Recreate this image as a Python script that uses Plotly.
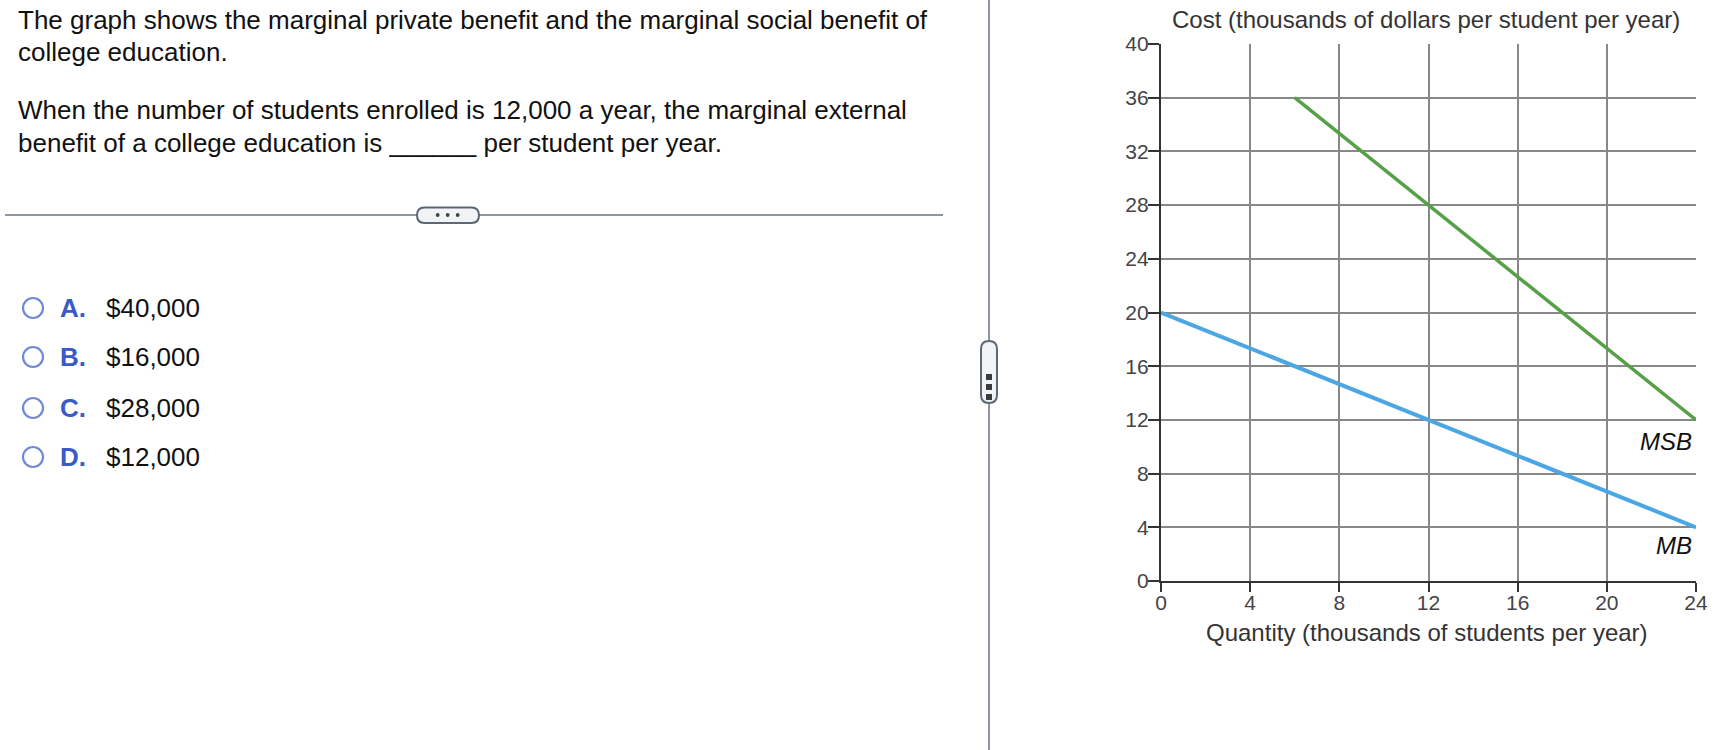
import plotly.graph_objects as go

W, H = 1724, 750

# ---- data ----
mb_x = [0, 24]
mb_y = [20, 4]
msb_x = [6, 24]
msb_y = [36, 12]
x_ticks = [0, 4, 8, 12, 16, 20, 24]
y_ticks = [0, 4, 8, 12, 16, 20, 24, 28, 32, 36, 40]
option_letters = ["A.", "B.", "C.", "D."]
option_values = ["$40,000", "$16,000", "$28,000", "$12,000"]
question_lines = [
    "The graph shows the marginal private benefit and the marginal social benefit of",
    "college education.",
    "When the number of students enrolled is 12,000 a year, the marginal external",
    "benefit of a college education is ______ per student per year.",
]

# plot area in page pixels
PL, PR, PT, PB = 1161, 1696, 44, 581


def fx(px):
    return px / W


def fy(py):
    return 1 - py / H


FONT = "Arial, Liberation Sans, sans-serif"
BLUE = "#4ba6e4"
GREEN = "#55a048"

fig = go.Figure()
fig.add_trace(go.Scatter(x=mb_x, y=mb_y, mode="lines",
                         line=dict(color=BLUE, width=4), hoverinfo="skip"))
fig.add_trace(go.Scatter(x=msb_x, y=msb_y, mode="lines",
                         line=dict(color=GREEN, width=3.5), hoverinfo="skip"))

axis_common = dict(
    showgrid=True, gridcolor="#888888", gridwidth=1.6,
    showline=True, linecolor="#333333", linewidth=2.2,
    ticks="outside", tickcolor="#333333", tickwidth=2,
    zeroline=False, automargin=False,
    tickfont=dict(family=FONT, size=21, color="#444444"),
    fixedrange=True,
)

fig.update_layout(
    width=W, height=H,
    margin=dict(l=0, r=0, t=0, b=0),
    paper_bgcolor="white", plot_bgcolor="white",
    showlegend=False,
    xaxis=dict(domain=[fx(PL), fx(PR)], range=[0, 24], tickvals=x_ticks,
               ticktext=[str(v) for v in x_ticks], ticklen=9,
               ticklabelstandoff=-7, **axis_common),
    yaxis=dict(domain=[fy(PB), fy(PT)], range=[0, 40], tickvals=y_ticks,
               ticktext=[str(v) for v in y_ticks], ticklen=11,
               ticklabelstandoff=-5, **axis_common),
)

anns = []
# chart labels
anns.append(dict(x=fx(1426), y=fy(20), xref="paper", yref="paper",
                 text="Cost (thousands of dollars per student per year)",
                 showarrow=False, xanchor="center", yanchor="middle",
                 font=dict(family=FONT, size=24, color="#333333")))
anns.append(dict(x=fx(1427), y=fy(632), xref="paper", yref="paper",
                 text="Quantity (thousands of students per year)",
                 showarrow=False, xanchor="center", yanchor="middle",
                 font=dict(family=FONT, size=24, color="#333333")))
anns.append(dict(x=msb_x[-1], y=msb_y[-1], xref="x", yref="y", text="<i>MSB</i>",
                 showarrow=False, xanchor="right", yanchor="middle",
                 xshift=-2, yshift=-22,
                 font=dict(family=FONT, size=24, color="#111111")))
anns.append(dict(x=mb_x[-1], y=mb_y[-1], xref="x", yref="y", text="<i>MB</i>",
                 showarrow=False, xanchor="right", yanchor="middle",
                 xshift=-2, yshift=-18,
                 font=dict(family=FONT, size=24, color="#111111")))

# question text
line_y = [20, 52, 110, 143]
for t, yy in zip(question_lines, line_y):
    anns.append(dict(x=fx(16), y=fy(yy), xref="paper", yref="paper", text=t,
                     showarrow=False, xanchor="left", yanchor="middle",
                     font=dict(family=FONT, size=26, color="#111111")))

# options
row_y = [308, 357, 408, 457]
shapes = []
for letter, val, yy in zip(option_letters, option_values, row_y):
    anns.append(dict(x=fx(58), y=fy(yy), xref="paper", yref="paper",
                     text="<b>" + letter + "</b>", showarrow=False,
                     xanchor="left", yanchor="middle",
                     font=dict(family=FONT, size=26, color="#3a5ac8")))
    anns.append(dict(x=fx(104), y=fy(yy), xref="paper", yref="paper",
                     text=val, showarrow=False, xanchor="left", yanchor="middle",
                     font=dict(family=FONT, size=26, color="#111111")))
    r = 10
    shapes.append(dict(type="circle", xref="paper", yref="paper",
                       x0=fx(33 - r), x1=fx(33 + r), y0=fy(yy + r), y1=fy(yy - r),
                       line=dict(color="#7189d8", width=2.2)))


def rounded_rect(x0, y0, x1, y1, rad):
    pts = [
        ("M", [(x0 + rad, y0)]),
        ("L", [(x1 - rad, y0)]),
        ("Q", [(x1, y0), (x1, y0 + rad)]),
        ("L", [(x1, y1 - rad)]),
        ("Q", [(x1, y1), (x1 - rad, y1)]),
        ("L", [(x0 + rad, y1)]),
        ("Q", [(x0, y1), (x0, y1 - rad)]),
        ("L", [(x0, y0 + rad)]),
        ("Q", [(x0, y0), (x0 + rad, y0)]),
    ]
    s = ""
    for cmd, ps in pts:
        s += cmd + " " + " ".join(f"{fx(a):.6f},{fy(b):.6f}" for a, b in ps) + " "
    return s + "Z"


# vertical divider
shapes.append(dict(type="line", xref="paper", yref="paper",
                   x0=fx(989), x1=fx(989), y0=0, y1=1,
                   line=dict(color="#8e959f", width=2)))
shapes.append(dict(type="path", xref="paper", yref="paper",
                   path=rounded_rect(981, 341, 997, 403, 8),
                   fillcolor="#f2f3f5", line=dict(color="#5d6876", width=2)))
for sy in [377, 387, 397]:
    shapes.append(dict(type="rect", xref="paper", yref="paper",
                       x0=fx(986), x1=fx(992), y0=fy(sy + 3), y1=fy(sy - 3),
                       fillcolor="#3c3c3c", line=dict(width=0)))

# horizontal divider with button
shapes.append(dict(type="line", xref="paper", yref="paper",
                   x0=fx(5), x1=fx(943), y0=fy(215), y1=fy(215),
                   line=dict(color="#8e959f", width=2)))
shapes.append(dict(type="path", xref="paper", yref="paper",
                   path=rounded_rect(417, 207.5, 479, 223, 7.5),
                   fillcolor="#f2f3f5", line=dict(color="#5d6876", width=2)))
for dx in [437.7, 447.7, 457.7]:
    shapes.append(dict(type="circle", xref="paper", yref="paper",
                       x0=fx(dx - 1.9), x1=fx(dx + 1.9), y0=fy(215 + 1.9), y1=fy(215 - 1.9),
                       fillcolor="#444444", line=dict(width=0)))

fig.update_layout(annotations=anns, shapes=shapes)
fig.write_html("out.html", config={"displayModeBar": False})
